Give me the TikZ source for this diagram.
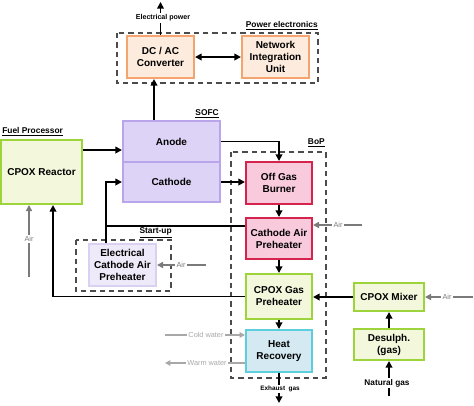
\documentclass[tikz,border=0pt]{standalone}
\usepackage{fontspec}
\setmainfont{Liberation Sans}
\usetikzlibrary{arrows.meta,calc}
\definecolor{orB}{HTML}{F4A56E}
\definecolor{orF}{HTML}{FDEBDD}
\definecolor{puB}{HTML}{B9A6EA}
\definecolor{puF}{HTML}{DDD3F6}
\definecolor{grB}{HTML}{9DD43C}
\definecolor{grF}{HTML}{F3F8DC}
\definecolor{rdB}{HTML}{D4234C}
\definecolor{rdF}{HTML}{F8CADB}
\definecolor{lpB}{HTML}{DAD0F2}
\definecolor{lpF}{HTML}{EFEAF9}
\definecolor{blB}{HTML}{5DCFDC}
\definecolor{blF}{HTML}{D5E9F2}
\definecolor{airC}{HTML}{7A7A7A}
\definecolor{watC}{HTML}{A8A8A8}
\begin{document}
\begin{tikzpicture}[x=0.75pt,y=-0.75pt,
  box/.style={draw, line width=1.5pt, align=center, inner sep=0pt,
    font=\fontsize{7.5}{9}\selectfont\bfseries},
  grp/.style={draw=black!70, line width=0.8pt, dash pattern=on 4pt off 3pt},
  grplbl/.style={font=\fontsize{6.3}{7}\selectfont\bfseries, inner sep=0pt},
  arr/.style={line width=1.4pt, -{Triangle[length=5pt,width=5pt]}},
  ln/.style={line width=1.4pt},
  airarr/.style={draw=airC, line width=1.1pt, -{Triangle[length=4.5pt,width=4.5pt]}},
  watarr/.style={draw=watC, line width=0.9pt, -{Triangle[length=4pt,width=4pt]}},
  airlbl/.style={text=airC, fill=white, inner sep=1pt, font=\fontsize{5.5}{6}\selectfont},
  watlbl/.style={text=watC, fill=white, inner sep=1pt, font=\fontsize{5.5}{6}\selectfont},
  smlbl/.style={fill=white, inner sep=1pt, font=\fontsize{5.3}{6}\selectfont\bfseries}
]
\useasboundingbox (0,0) rectangle (474,405);

% group boxes
\draw[grp] (117,33) rectangle (318,83);
\draw[grp] (76,240) rectangle (171,291);
\draw[grp] (231,152) rectangle (326,378);
\node[grplbl, anchor=east] (lpe) at (318,26) {\underline{Power electronics}};
\node[grplbl, anchor=east] (lsofc) at (219,114) {\underline{SOFC}};
\node[grplbl, anchor=west] (lfp) at (2,132) {\underline{Fuel Processor}};
\node[grplbl, anchor=east] (lsu) at (172,233) {\underline{Start-up}};
\node[grplbl, anchor=east] (lbop) at (325,143) {\underline{BoP}};

% boxes
\node[box, draw=orB, fill=orF, minimum width=50.25pt, minimum height=31.5pt] (dcac) at (160.5,57) {DC / AC\\Converter};
\node[box, draw=orB, fill=orF, minimum width=50.25pt, minimum height=31.5pt] (niu) at (275.5,57) {Network\\Integration\\Unit};
\node[box, draw=puB, fill=puF, minimum width=72.75pt, minimum height=30.75pt] (anode) at (171.5,141.5) {Anode};
\node[box, draw=puB, fill=puF, minimum width=72.75pt, minimum height=30pt] (cathode) at (171.5,182) {Cathode};
\node[box, draw=grB, fill=grF, minimum width=60.75pt, minimum height=48pt] (cpox) at (41.5,172) {CPOX Reactor};
\node[box, draw=lpB, fill=lpF, minimum width=50.25pt, minimum height=31.5pt] (ecap) at (122.5,265) {Electrical\\Cathode Air\\Preheater};
\node[box, draw=rdB, fill=rdF, minimum width=49.5pt, minimum height=31.5pt] (ogb) at (279,183) {Off Gas\\Burner};
\node[box, draw=rdB, fill=rdF, minimum width=49.5pt, minimum height=30.75pt] (cap) at (279,238.5) {Cathode Air\\Preheater};
\node[box, draw=grB, fill=grF, minimum width=49.5pt, minimum height=33.75pt] (cgp) at (279,296.5) {CPOX Gas\\Preheater};
\node[box, draw=blB, fill=blF, minimum width=49.5pt, minimum height=31.5pt] (hr) at (279,351) {Heat\\Recovery};
\node[box, draw=grB, fill=grF, minimum width=52.5pt, minimum height=21pt] (mix) at (389,297) {CPOX Mixer};
\node[box, draw=grB, fill=grF, minimum width=52.5pt, minimum height=23.25pt] (des) at (389,344.5) {Desulph.\\(gas)};

% coordinates
\coordinate (ep) at (160.5,2);
\coordinate (j) at (106,226);
\coordinate (lp) at ($(cpox.south)+(11.5,0)$);
\coordinate (cpa) at ($(cpox.north east)+(0,11)$);
\coordinate (airL) at (29,277);
\coordinate (airE) at (206,265);
\coordinate (airCc) at (362,225);
\coordinate (airM) at (473,297);
\coordinate (ng) at (389,396);
\coordinate (ex) at (279,403);
\coordinate (cw) at (165,335);
\coordinate (ww) at (165,363);

% connectors
\draw[arr] (dcac.north) -- (ep);
\node[smlbl] (lep) at (163,18) {Electrical power};
\draw[arr] ($(anode.north)+(-17.5,0)$) -- ($(dcac.south)+(-6.5,0)$);
\draw[line width=1.4pt, {Triangle[length=5pt,width=5pt]}-{Triangle[length=5pt,width=5pt]}] (dcac.east) -- (niu.west);
\draw[arr] (cpa) -- (cpa -| anode.west);
\draw[arr] (anode.east) -| (ogb.north);
\draw[arr] (cathode.east) -- (cathode.east -| ogb.west);
\draw[arr] (ogb.south) -- (cap.north);
\draw[arr] (cap.south) -- (cgp.north);
\draw[arr] (cgp.south) -- (hr.north);
\draw[ln] ($(cap.west)+(0,-12.5)$) -- (j);
\draw[arr] (ecap.north -| j) |- (cathode.west);
\draw[arr] (cgp.west) -| (lp);
\draw[arr] (mix.west) -- (mix.west -| cgp.east);
\draw[arr] (des.north) -- (mix.south);
\draw[arr] (ng) -- (des.south);
\node[smlbl, font=\fontsize{6.2}{7}\selectfont\bfseries] (lng) at (387,383) {Natural gas};
\draw[arr] (hr.south) -- (ex);
\node[smlbl, font=\fontsize{4.8}{6}\selectfont\bfseries] (lex) at (280,389) {Exhaust\ \ gas};

% air and water
\draw[airarr] (airL) -- (airL |- cpox.south);
\node[airlbl] (la1) at (29,239) {Air};
\draw[airarr] (airE) -- (ecap.east);
\node[airlbl] (la2) at (181,265) {Air};
\draw[airarr] (airCc) -- (airCc -| cap.east);
\node[airlbl] (la3) at (338,225) {Air};
\draw[airarr] (airM) -- (mix.east);
\node[airlbl] (la4) at (447,297) {Air};
\draw[watarr] (cw) -- (cw -| hr.west);
\node[watlbl] (lcw) at (206,335) {Cold water};
\draw[watarr] (ww -| hr.west) -- (ww);
\node[watlbl] (lww) at (207,363) {Warm water};
\end{tikzpicture}
\end{document}
